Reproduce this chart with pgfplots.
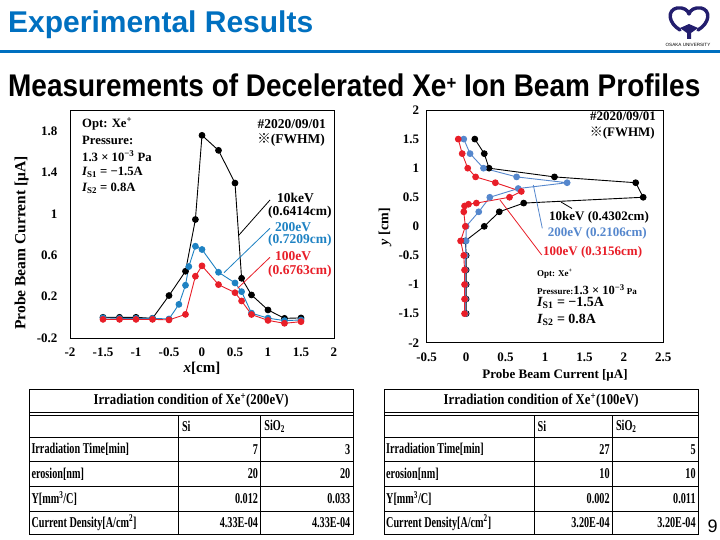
\documentclass[border=0pt]{standalone}
\usepackage{pgfplots}
\pgfplotsset{compat=1.18}
\usepackage{fontspec}
\usepackage{graphicx}
\setmainfont{Liberation Serif}
\newfontfamily\arial{Liberation Sans}
\newfontfamily\narrow[FakeStretch=0.68]{Liberation Serif}
\newfontfamily\semi[FakeStretch=0.85]{Liberation Serif}
\newfontfamily\cjk{Noto Sans CJK JP}

\definecolor{titleblue}{RGB}{0,112,192}
\definecolor{sblue}{RGB}{30,130,195}
\definecolor{sblueB}{RGB}{85,135,205}
\definecolor{sred}{RGB}{232,30,40}
\definecolor{navy}{RGB}{35,30,110}

\newcommand{\fs}[1]{\fontsize{#1}{#1}\selectfont}

\pgfplotsset{
  profile/.style={
    scale only axis,
    axis line style={line width=0.9pt},
    major tick length=0pt,
    /pgf/number format/assume math mode=true,
    ticklabel style={font=\fs{13}\bfseries},
    clip=false,
  },
  ser/.style={line width=0.9pt, mark=*, mark size=2.9pt, mark options={solid}},
}

\begin{document}
\begin{tikzpicture}
\begin{scope}[x=1pt,y=-1pt,every node/.style={inner sep=0pt}]
\path[use as bounding box, fill=white] (0,0) rectangle (720,540);

% ---- slide heading ----
\node[anchor=north west, text=titleblue] at (8,11)
  {\resizebox{305pt}{!}{\arial\bfseries Experimental Results}};
\fill[titleblue] (0,50) rectangle (720,53.5);
\node[anchor=north west] at (8,74)
  {\resizebox{692pt}{22.7pt}{\arial\bfseries Measurements of Decelerated Xe\raisebox{2.4pt}{\fs{6}+} Ion Beam Profiles}};

% ---- university emblem ----
\draw[navy, line width=3.4pt, line cap=round, line join=round]
  (680,30) .. controls (668,23) and (667,10) .. (677,8)
  .. controls (683,7) and (688,10) .. (689,14)
  .. controls (690,10) and (695,7) .. (701,8)
  .. controls (711,10) and (710,23) .. (698,30);
\fill[navy] (680,28) -- (689,24) -- (698,28) -- (691,33) -- (691,39) -- (687,39) -- (687,33) -- cycle;
\node[font=\arial\fs{4.6}] at (688,45) {OSAKA UNIVERSITY};
\end{scope}

% ---- horizontal profile ----
\begin{axis}[profile,
  at={(70pt,-338pt)}, anchor=south west,
  width=264pt, height=227.7pt,
  xmin=-2, xmax=2, ymin=-0.2, ymax=2.0,
  xtick={-2,-1.5,-1,-0.5,0,0.5,1,1.5,2},
  ytick={-0.2,0.2,0.6,1,1.4,1.8},
  xticklabel style={yshift=-6pt},
  yticklabel style={xshift=-9pt},
]
\addplot[ser, black] coordinates {
  (-1.5,0) (-1.25,0) (-1,0) (-0.75,-0.01) (-0.5,0.21) (-0.25,0.445)
  (-0.1,0.945) (0,1.758) (0.25,1.613) (0.5,1.297) (0.6,0.377)
  (0.75,0.216) (1,0.071) (1.25,-0.01) (1.5,-0.006)};
\addplot[ser, sblue] coordinates {
  (-1.5,-0.005) (-1.25,-0.01) (-1,-0.01) (-0.75,-0.01) (-0.5,-0.016)
  (-0.35,0.125) (-0.25,0.31) (-0.2,0.49) (-0.1,0.687) (0,0.655)
  (0.25,0.435) (0.5,0.332) (0.6,0.248) (0.75,0.04) (1,-0.008)
  (1.25,-0.032) (1.5,-0.026)};
\addplot[ser, sred] coordinates {
  (-1.5,-0.02) (-1.25,-0.02) (-1,-0.02) (-0.75,-0.02) (-0.5,-0.025)
  (-0.25,0.028) (-0.1,0.397) (0,0.497) (0.25,0.316) (0.5,0.238)
  (0.6,0.158) (0.75,0.027) (1,-0.03) (1.25,-0.058) (1.5,-0.042)};
\end{axis}

% ---- vertical profile ----
\begin{axis}[profile,
  at={(426.7pt,-342.7pt)}, anchor=south west,
  width=236.6pt, height=232.7pt,
  xmin=-0.5, xmax=2.5, ymin=-2, ymax=2,
  xtick={-0.5,0,0.5,1,1.5,2,2.5},
  ytick={-2,-1.5,-1,-0.5,0,0.5,1,1.5,2},
  xticklabel style={yshift=-7pt},
  yticklabel style={xshift=-4pt},
]
\addplot[ser, black] coordinates {
  (0.11,1.5) (0.23,1.25) (0.29,1.0) (1.12,0.85) (2.15,0.75) (2.245,0.5)
  (0.73,0.4) (0.42,0.25) (0.23,0) (-0.01,-0.25) (0,-0.5) (0,-0.75)
  (0,-1) (0,-1.25) (0,-1.5)};
\addplot[ser, sblueB] coordinates {
  (-0.03,1.5) (0.05,1.25) (0.22,1.0) (0.64,0.85) (1.28,0.75) (0.66,0.65)
  (0.30,0.5) (0.16,0.25) (0,0) (0,-0.25) (-0.01,-0.5) (-0.01,-0.75)
  (-0.01,-1) (-0.01,-1.25) (-0.01,-1.5)};
\addplot[ser, sred] coordinates {
  (-0.10,1.5) (-0.05,1.25) (0.02,1.0) (0.12,0.85) (0.37,0.75) (0.70,0.6)
  (0.55,0.5) (0.13,0.4) (0.03,0.38) (-0.02,0.35) (-0.03,0.25) (-0.01,0)
  (-0.07,-0.25) (-0.03,-0.5) (-0.02,-0.75) (-0.02,-1) (-0.02,-1.25)
  (-0.02,-1.5)};
\end{axis}

\begin{scope}[x=1pt,y=-1pt,every node/.style={inner sep=0pt}]
% ---- labels of the horizontal profile ----
\node[rotate=90, font=\fs{15.5}\bfseries] at (21.7,243) {Probe Beam Current [μA]};
\node[font=\fs{15}\bfseries] at (202,368) {{\itshape x}[cm]};
\begin{scope}[every node/.append style={anchor=west, font=\fs{12.7}\bfseries}]
\node at (82,124) {Opt: Xe\textsuperscript{+}};
\node at (82,140) {Pressure:};
\node at (82,156) {1.3 × 10\textsuperscript{−3} Pa};
\node at (82,172) {{\itshape I}\textsubscript{S1} = −1.5A};
\node at (82,188) {{\itshape I}\textsubscript{S2} = 0.8A};
\end{scope}
\node[anchor=east, font=\fs{13.5}\bfseries] at (326,124) {\#2020/09/01};
\node[anchor=east, font=\fs{13.5}\bfseries] at (325,140) {{\cjk ※}(FWHM)};
\begin{scope}[every node/.append style={anchor=west, font=\fs{13.5}\bfseries}]
\node at (277,198) {10keV};
\node at (268,212) {(0.6414cm)};
\node[text=sblue] at (275,227) {200eV};
\node[text=sblue] at (268,240.5) {(0.7209cm)};
\node[text=sred] at (275,256) {100eV};
\node[text=sred] at (268,271) {(0.6763cm)};
\end{scope}
\draw[black, line width=0.8pt] (270,200) -- (239,235);
\draw[sblue, line width=0.8pt] (270,228.3) -- (224,272.7);
\draw[sred, line width=0.8pt] (270,257.3) -- (237.7,288.3);

% ---- labels of the vertical profile ----
\node[rotate=90, font=\fs{14}\bfseries] at (385,226.7) {{\itshape y} [cm]};
\node[font=\fs{13}\bfseries] at (555,375) {Probe Beam Current [μA]};
\node[anchor=east, font=\fs{13}\bfseries] at (656,116.7) {\#2020/09/01};
\node[anchor=east, font=\fs{13}\bfseries] at (655,133.3) {{\cjk ※}(FWHM)};
\begin{scope}[every node/.append style={anchor=west, font=\fs{13}\bfseries}]
\node at (549,217.3) {10keV (0.4302cm)};
\node[text=sblueB] at (547.7,233.3) {200eV (0.2106cm)};
\node[text=sred] at (543,252.3) {100eV (0.3156cm)};
\end{scope}
\draw[black, line width=0.8pt] (572,208.5) -- (561,202);
\draw[sblueB, line width=0.8pt] (542.3,228.3) -- (533.3,185);
\draw[sred, line width=0.8pt] (541.7,255) -- (500,200);
\node[anchor=west, font=\fs{9}\bfseries] at (537,274) {Opt: Xe\textsuperscript{+}};
\node[anchor=west, font=\fs{9}\bfseries] at (537,290)
  {Pressure:{\fs{12.5}1.3 × 10\textsuperscript{−3}} Pa};
\node[anchor=west, font=\fs{14}\bfseries] at (537,303.3) {{\itshape I}\textsubscript{S1} = −1.5A};
\node[anchor=west, font=\fs{14}\bfseries] at (537,320) {{\itshape I}\textsubscript{S2} = 0.8A};

% ---- irradiation tables ----
\foreach \L/\R/\Ca/\Cb/\E/\ta/\tb/\ea/\eb/\ya/\yb/\ja/\jb in {
  29.3/353/178.3/260.7/200/7/3/20/20/0.012/0.033/4.33E-04/4.33E-04,
  384/698.3/534/612.3/100/27/5/10/10/0.002/0.011/3.20E-04/3.20E-04}{
  \draw[line width=0.9pt] (\L,389) rectangle (\R,534.3);
  \draw[line width=0.6pt] (\L,412) -- (\R,412) (\L,415) -- (\R,415);
  \foreach \h in {437.3,461.7,486,511}{\draw[line width=0.7pt] (\L,\h) -- (\R,\h);}
  \draw[line width=0.9pt] (\Ca,415) -- (\Ca,534.3) (\Cb,415) -- (\Cb,534.3);
  \node[font=\semi\fs{15}\bfseries] at ({(\L+\R)/2},400.5) {Irradiation condition of Xe\textsuperscript{+}(\E eV)};
  \begin{scope}[every node/.append style={font=\narrow\fs{15}\bfseries}]
  \node[anchor=west] at (\Ca+3.5,426) {Si};
  \node[anchor=west] at (\Cb+3.5,426) {SiO\textsubscript{2}};
  \node[anchor=west] at (\L+2,449.5) {Irradiation Time[min]};
  \node[anchor=west] at (\L+2,474) {erosion[nm]};
  \node[anchor=west] at (\L+2,498.5) {Y[mm\textsuperscript{3}/C]};
  \node[anchor=west] at (\L+2,522.7) {Current Density[A/cm\textsuperscript{2}]};
  \node[anchor=east] at (\Cb-2.5,449.5) {\ta};
  \node[anchor=east] at (\R-2.5,449.5) {\tb};
  \node[anchor=east] at (\Cb-2.5,474) {\ea};
  \node[anchor=east] at (\R-2.5,474) {\eb};
  \node[anchor=east] at (\Cb-2.5,498.5) {\ya};
  \node[anchor=east] at (\R-2.5,498.5) {\yb};
  \node[anchor=east] at (\Cb-2.5,522.7) {\ja};
  \node[anchor=east] at (\R-2.5,522.7) {\jb};
  \end{scope}
}
\node[anchor=base, font=\arial\fs{18}] at (712.5,532) {9};
\end{scope}
\end{tikzpicture}
\end{document}
